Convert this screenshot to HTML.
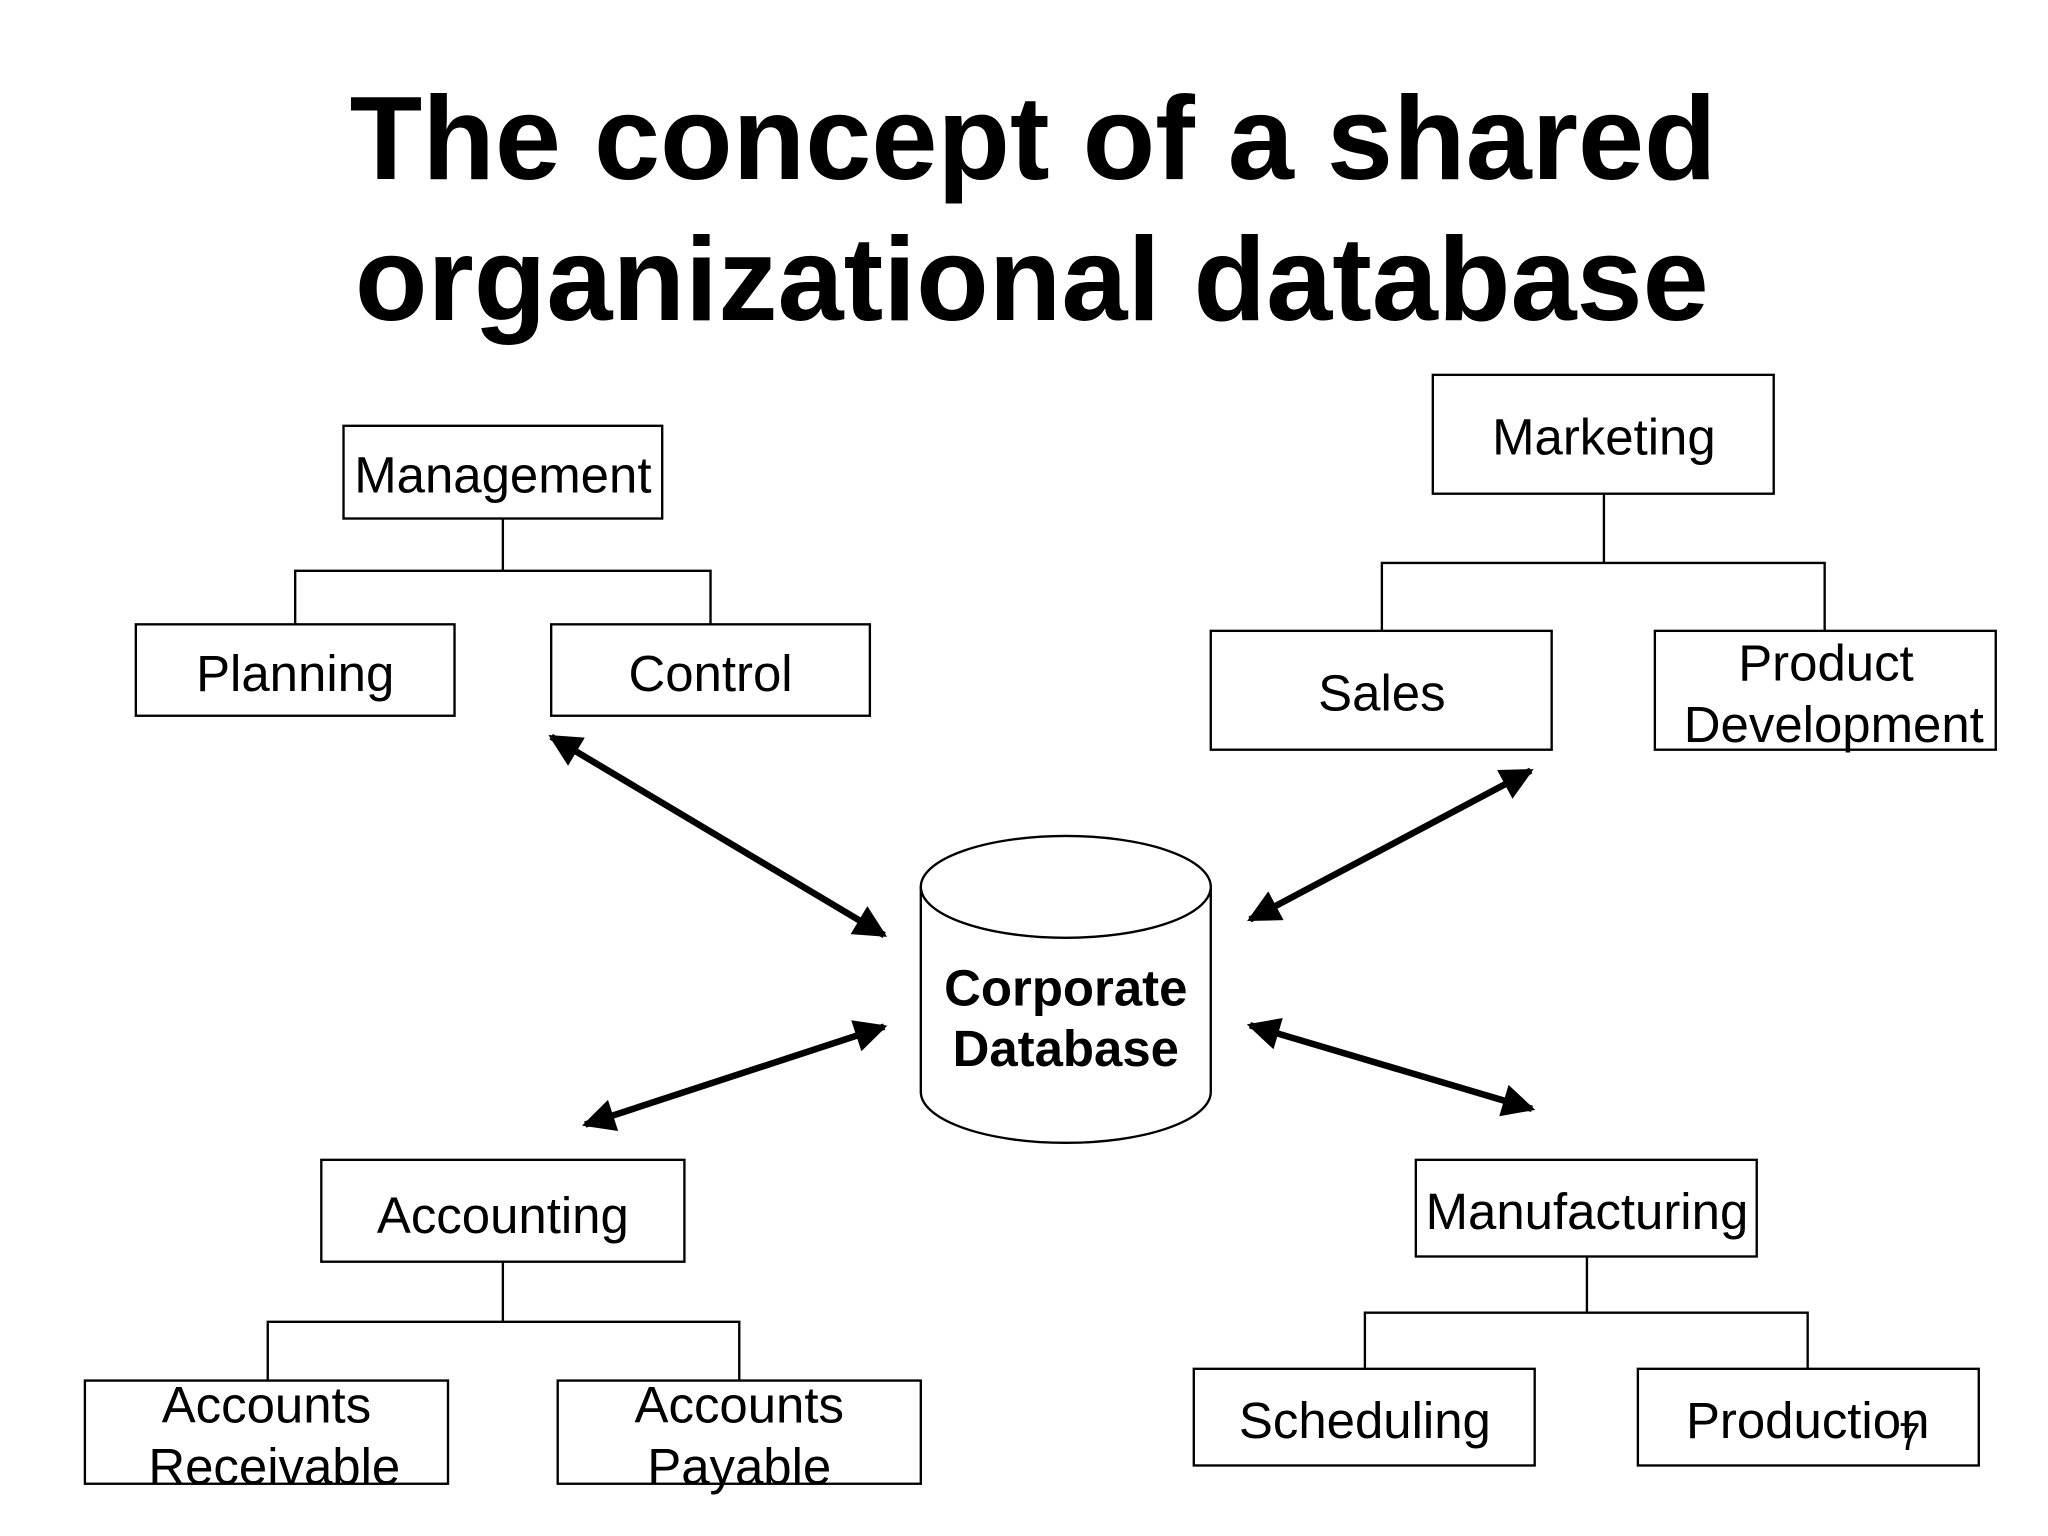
<!DOCTYPE html>
<html><head><meta charset="utf-8"><style>
html,body{margin:0;padding:0;background:#fff;}
svg{display:block;}
text{font-family:"Liberation Sans",Arial,sans-serif;fill:#000;}
</style></head><body>
<svg width="2048" height="1536" viewBox="0 0 1568 1176" xmlns="http://www.w3.org/2000/svg">
<defs>
<marker id="ah" viewBox="0 0 10 10" refX="9" refY="5" markerWidth="5.5" markerHeight="5" orient="auto-start-reverse" markerUnits="strokeWidth">
<path d="M0,0 L10,5 L0,10 z" fill="#000"/>
</marker>
</defs>
<text x="791" y="137" font-size="91" font-weight="bold" text-anchor="middle">The concept of a shared</text>
<text x="790" y="245" font-size="91" font-weight="bold" text-anchor="middle">organizational database</text>

<g fill="none" stroke="#000" stroke-width="1.8">
<rect x="263" y="326" width="244" height="71"/>
<path d="M385,397 V437 M226,478 V437 H544 V478"/>
<rect x="104" y="478" width="244" height="70"/>
<rect x="422" y="478" width="244" height="70"/>

<rect x="1097" y="287" width="261" height="91"/>
<path d="M1228,378 V431 M1058,483 V431 H1397 V483"/>
<rect x="927" y="483" width="261" height="91"/>
<rect x="1267" y="483" width="261" height="91"/>

<rect x="246" y="888" width="278" height="78"/>
<path d="M385,966 V1012 M205,1057 V1012 H566 V1057"/>
<rect x="65" y="1057" width="278" height="79"/>
<rect x="427" y="1057" width="278" height="79"/>

<rect x="1084" y="888" width="261" height="74"/>
<path d="M1215,962 V1005 M1045,1048 V1005 H1384 V1048"/>
<rect x="914" y="1048" width="261" height="74"/>
<rect x="1254" y="1048" width="261" height="74"/>

<path d="M705,679 V836 A111,39 0 0 0 927,836 V679" fill="#fff"/>
<ellipse cx="816" cy="679" rx="111" ry="39" fill="#fff"/>
</g>

<g stroke="#000" stroke-width="5" fill="none" marker-start="url(#ah)" marker-end="url(#ah)">
<line x1="422" y1="564" x2="677" y2="716"/>
<line x1="1172" y1="590" x2="957" y2="704"/>
<line x1="677" y1="786" x2="448" y2="861"/>
<line x1="957" y1="785" x2="1173" y2="849"/>
</g>

<g font-size="39" text-anchor="middle">
<text x="385" y="377">Management</text>
<text x="226" y="529">Planning</text>
<text x="544" y="529">Control</text>
<text x="1228" y="348">Marketing</text>
<text x="1058" y="544">Sales</text>
<text x="1398" y="521">Product</text>
<text x="1404" y="568">Development</text>
<text x="385" y="944">Accounting</text>
<text x="204" y="1089">Accounts</text>
<text x="210" y="1136">Receivable</text>
<text x="566" y="1089">Accounts</text>
<text x="566" y="1136">Payable</text>
<text x="1215" y="941">Manufacturing</text>
<text x="1045" y="1101">Scheduling</text>
<text x="1384" y="1101">Production</text>
</g>
<text x="1462" y="1110" font-size="30" text-anchor="middle">7</text>
<g font-size="39" font-weight="bold" text-anchor="middle">
<text x="816" y="770">Corporate</text>
<text x="816" y="816">Database</text>
</g>
</svg>
</body></html>
